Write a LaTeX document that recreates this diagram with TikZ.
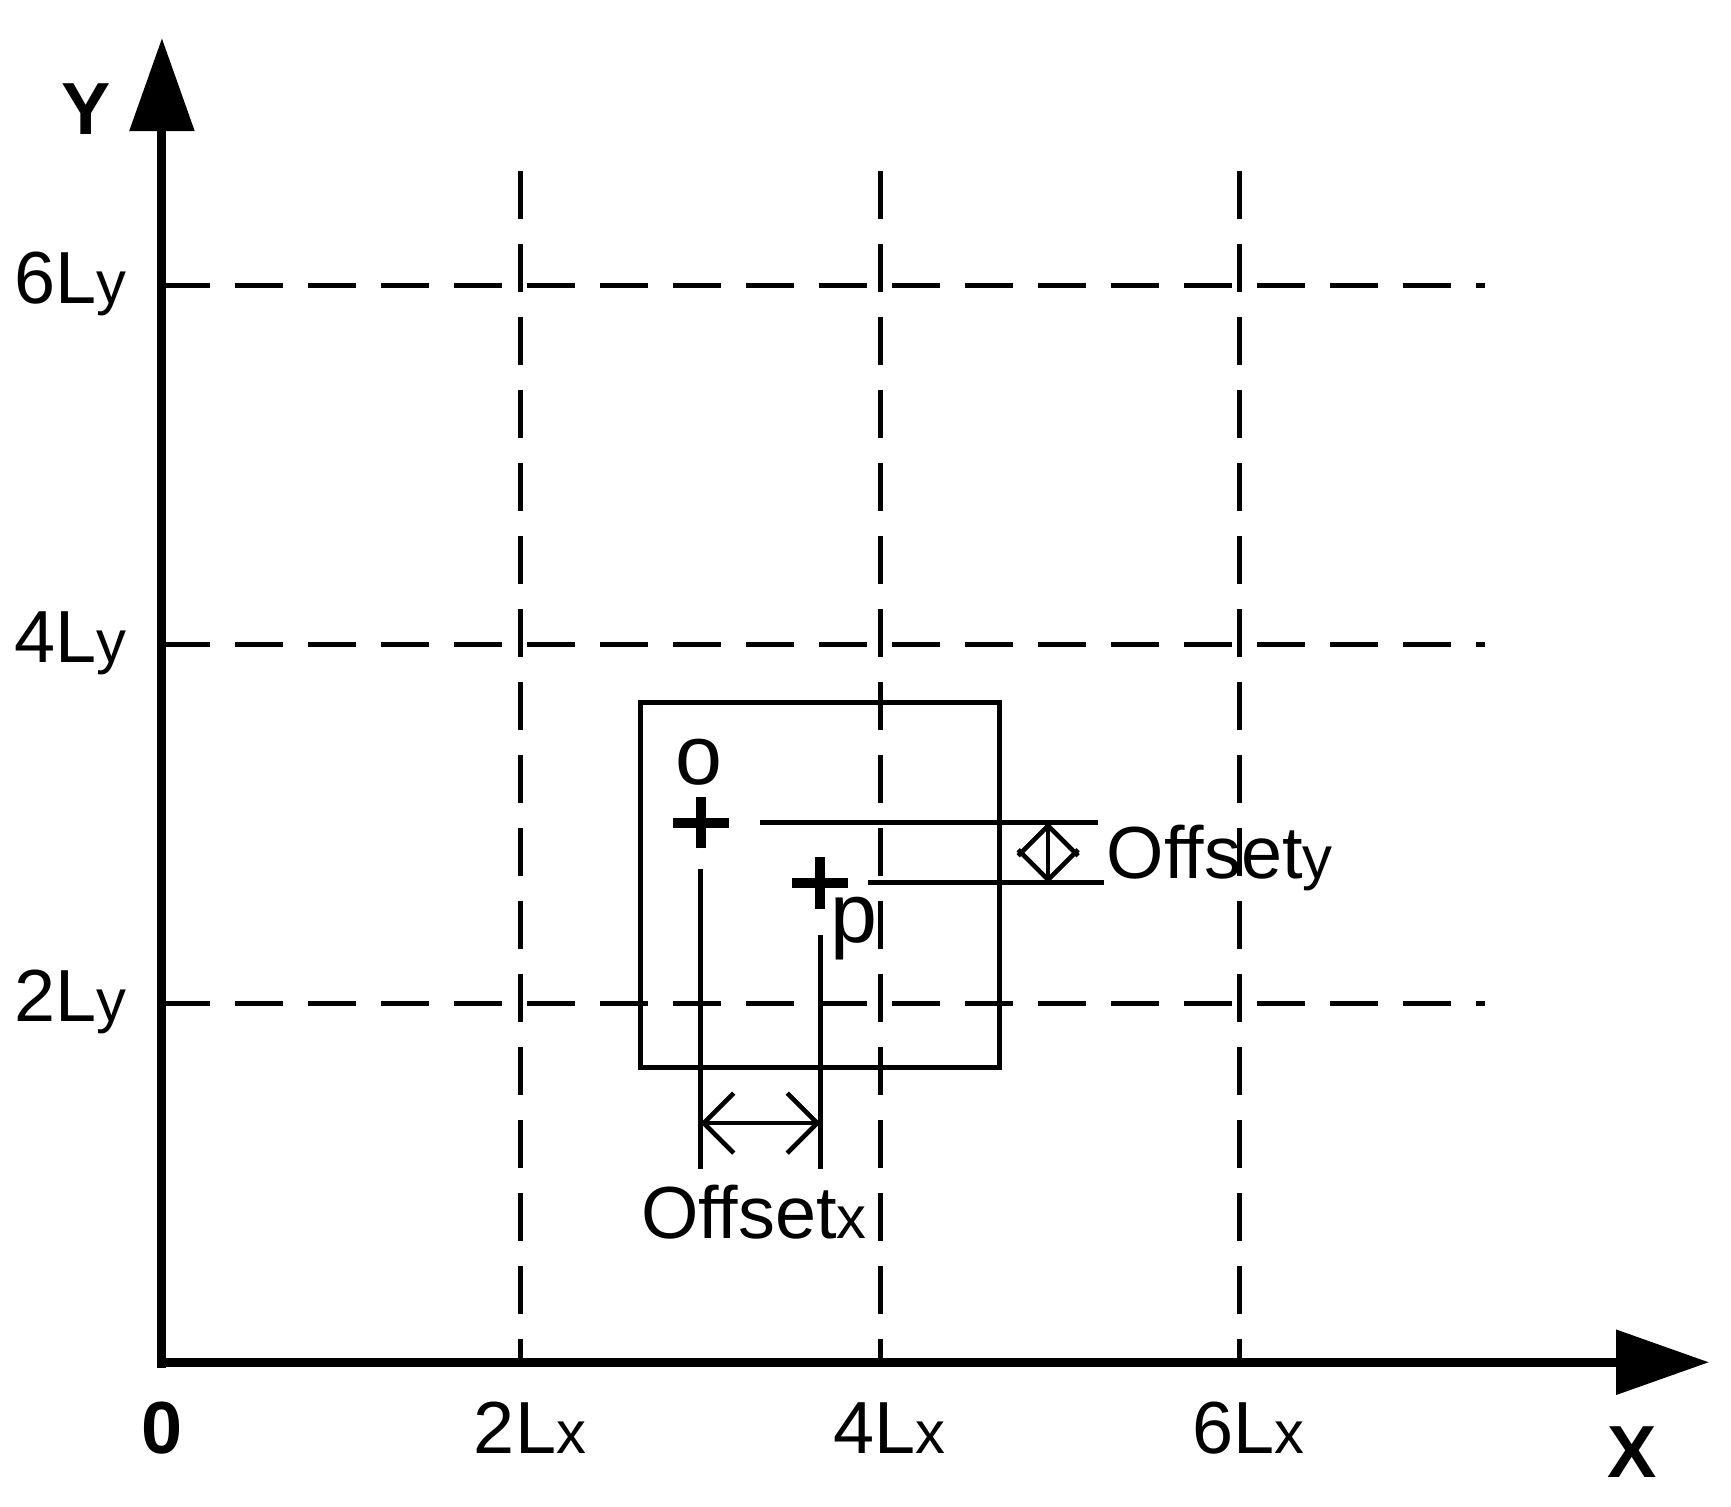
\documentclass[tikz,border=0pt]{standalone}
\usepackage{fontspec}
\setmainfont{Liberation Sans}
\usetikzlibrary{arrows.meta}
\newcommand{\smallsub}[1]{{\fontsize{17}{17}\selectfont #1}}

\begin{document}
\begin{tikzpicture}[x=3.59cm,y=3.59cm,
	axisline/.style={line width=0.9mm, -{Triangle[length=9.3mm,width=6.3mm]}},
	gridline/.style={line width=0.5mm, dash pattern=on 4.8mm off 2.5mm},
	markline/.style={line width=0.5mm},
	crossmark/.style={line width=1mm},
	dimarrow/.style={line width=0.45mm, {Straight Barb[length=3mm,width=6mm]}-{Straight Barb[length=3mm,width=6mm]}},
	txt/.style={font=\fontsize{21}{21}\selectfont, inner sep=0pt}]
	\useasboundingbox (-0.451,-0.401) rectangle (4.370,3.794);
		% % Grid
		 	\foreach \k in {1,2,3}{
  		 		\draw[gridline] (\k,3.318) -- (\k,0);
  		 		\draw[gridline] (0,\k) -- (3.685,\k);
		 	}
		% % Axes
		 	\coordinate (orig) at (0,0);
		 	\draw[axisline] (0,-0.015) -- (0,3.688);
		 	\draw[axisline] (-0.012,0) -- (4.309,0);
		 	\node[txt, anchor=base] (ylab) at (-0.212,3.418) {\bfseries Y};
		 	\node[txt, anchor=base] (xlab) at (4.094,-0.320) {\bfseries X};
		 	\node[txt, anchor=base] (zero) at (0,-0.253) {\bfseries 0};
		 	\foreach \k/\n in {1/2, 2/4, 3/6}{
  		 		\node[txt, anchor=base] (xtick\n) at (\k+0.025,-0.253) {\n L\smallsub{x}};
  		 		\node[txt, anchor=base east] (ytick\n) at (-0.098,\k-0.05) {\n L\smallsub{y}};
		 	}
		% % Window and the two points
		 	\draw[markline] (1.333,0.820) rectangle (2.334,1.838);
		 	\coordinate (o) at (1.5,1.503);
		 	\coordinate (p) at (1.834,1.335);
		 	\draw[crossmark] (o) ++(-0.078,0) -- ++(0.156,0) (o) ++(0,-0.072) -- ++(0,0.144);
		 	\draw[crossmark] (p) ++(-0.078,0) -- ++(0.156,0) (p) ++(0,-0.072) -- ++(0,0.144);
		 	\node[txt, font=\fontsize{24}{24}\selectfont, anchor=base] (olab) at (1.495,1.610) {o};
		 	\node[txt, font=\fontsize{24}{24}\selectfont, anchor=base] (plab) at (1.928,1.170) {p};
		% % Offsets
		 	\draw[markline] (o) ++(0,-0.13) -- ++(0,-0.835);
		 	\draw[markline] (p) ++(0,-0.146) -- ++(0,-0.651);
		 	\draw[markline] (o) ++(0.166,0) -- ++(0.94,0);
		 	\draw[markline] (p) ++(0.133,0) -- ++(0.657,0);
		 	\coordinate (dxa) at (1.5,0.666);
		 	\coordinate (dxb) at (1.834,0.666);
		 	\coordinate (dya) at (2.468,1.503);
		 	\coordinate (dyb) at (2.468,1.335);
		 	\draw[dimarrow] (dxa) -- (dxb);
		 	\draw[dimarrow] (dya) -- (dyb);
		 	\node[txt, anchor=base west] (offx) at (1.333,0.345) {Offset\smallsub{x}};
		 	\node[txt, anchor=base west] (offy) at (2.630,1.348) {Offset\smallsub{y}};
\end{tikzpicture}
\end{document}
